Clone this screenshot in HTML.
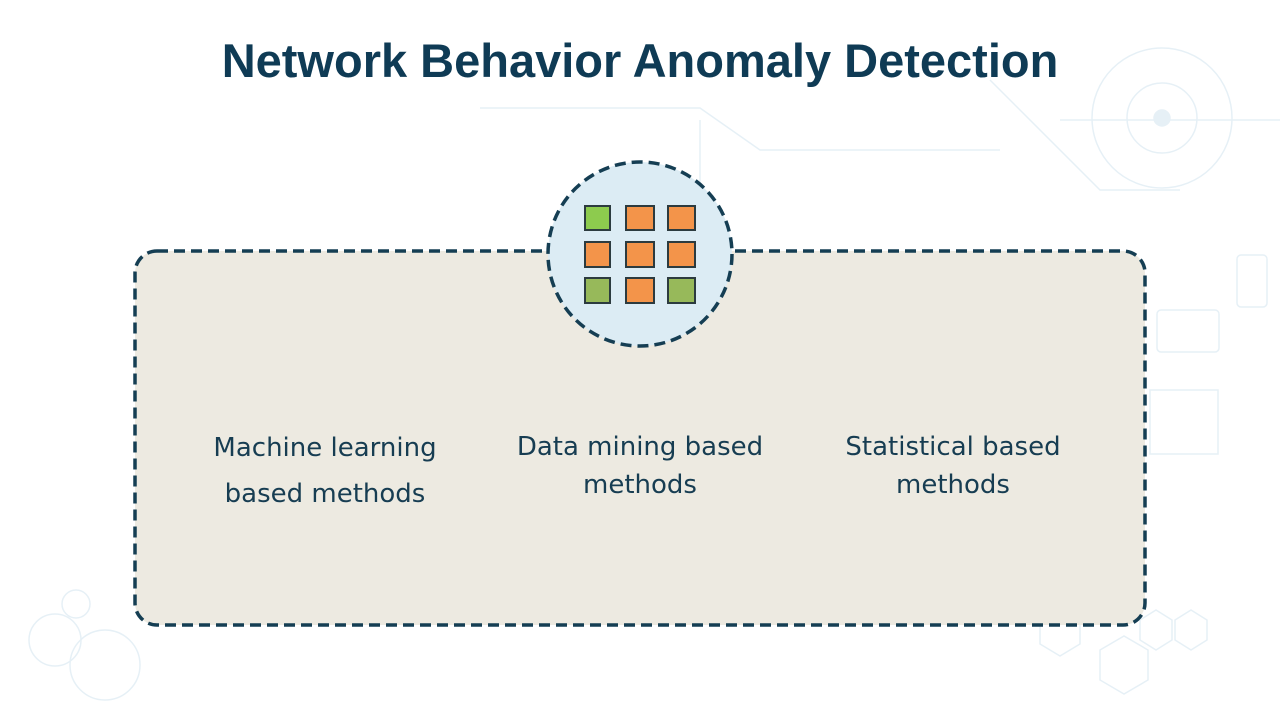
<!DOCTYPE html>
<html><head><meta charset="utf-8"><style>
body{margin:0;width:1280px;height:720px;background:#fff;position:relative;overflow:hidden;font-family:"Liberation Sans",sans-serif}
.t{position:absolute;left:0;width:1280px;text-align:center;top:33px;font-size:47px;font-weight:bold;color:#0f3b55}
.l{position:absolute;color:#173d52;text-align:center;line-height:38px;font-family:"DejaVu Sans","Liberation Sans",sans-serif;font-size:26px}
</style></head><body>
<svg width="1280" height="720" style="position:absolute;left:0;top:0">
<g stroke="#e6f0f6" fill="none" stroke-width="1.5">
<circle cx="1162" cy="118" r="70"/><circle cx="1162" cy="118" r="35"/><circle cx="1162" cy="118" r="8" fill="#e6f0f6"/>
<path d="M480 108 H700 L760 150 H1000 M1060 120 H1280 M700 120 V230 M990 80 L1100 190 H1180"/>
<rect x="1237" y="255" width="30" height="52" rx="4"/><rect x="1157" y="310" width="62" height="42" rx="4"/><rect x="1150" y="390" width="68" height="64"/>
<circle cx="55" cy="640" r="26"/><circle cx="105" cy="665" r="35"/><circle cx="76" cy="604" r="14"/>
<path d="M1040 620 l20 -12 20 12 v24 l-20 12 -20 -12z M1100 650 l24 -14 24 14 v30 l-24 14 -24 -14z M1140 620 l16 -10 16 10 v20 l-16 10 -16 -10z M1175 620 l16 -10 16 10 v20 l-16 10 -16 -10z"/>
</g>
<rect x="135" y="251" width="1010" height="374" rx="22" fill="#edeae1" stroke="#153e53" stroke-width="3.5" stroke-dasharray="11 6"/>
<circle cx="640" cy="254" r="92" fill="#dcecf4" stroke="#153e53" stroke-width="3.5" stroke-dasharray="11 6"/>
<g stroke="#2c3b3f" stroke-width="2">
<rect x="585" y="206" width="25" height="24" fill="#8dcb4e"/><rect x="626" y="206" width="28" height="24" fill="#f3944a"/><rect x="668" y="206" width="27" height="24" fill="#f3944a"/>
<rect x="585" y="242" width="25" height="25" fill="#f3944a"/><rect x="626" y="242" width="28" height="25" fill="#f3944a"/><rect x="668" y="242" width="27" height="25" fill="#f3944a"/>
<rect x="585" y="278" width="25" height="25" fill="#97b95a"/><rect x="626" y="278" width="28" height="25" fill="#f3944a"/><rect x="668" y="278" width="27" height="25" fill="#97b95a"/>
</g>
</svg>
<div class="t">Network Behavior Anomaly Detection</div>
<div class="l" style="left:175px;width:300px;top:425px;line-height:46px">Machine learning<br>based methods</div>
<div class="l" style="left:440px;width:400px;top:428px">Data mining based<br>methods</div>
<div class="l" style="left:753px;width:400px;top:428px">Statistical based<br>methods</div>
</body></html>
